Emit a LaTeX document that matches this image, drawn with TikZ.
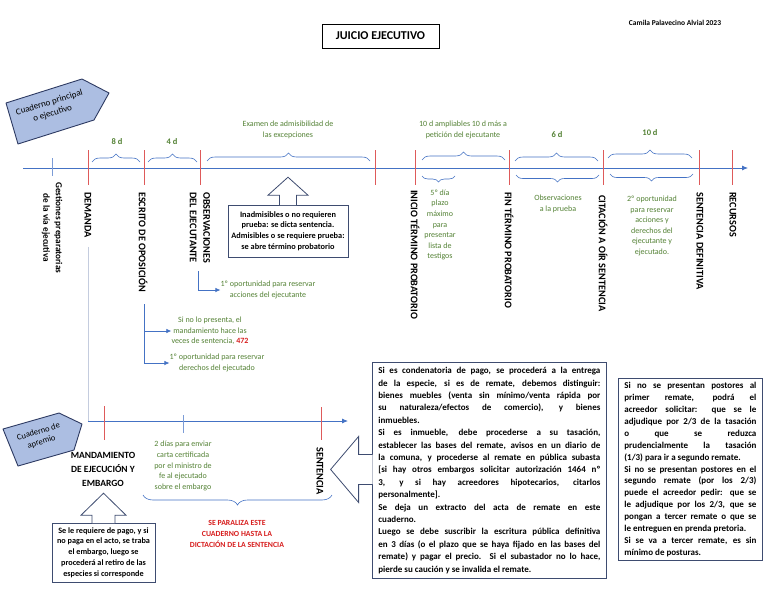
\documentclass[tikz,border=0pt]{standalone}
\usepackage{fontspec}
\setmainfont{Carlito}
\usetikzlibrary{arrows.meta,decorations.pathreplacing}
\definecolor{lineblue}{RGB}{68,114,196}
\definecolor{tickred}{RGB}{222,90,90}
\definecolor{verde}{RGB}{84,130,53}
\definecolor{tagfill}{RGB}{172,190,226}
\definecolor{tagline}{RGB}{45,58,98}
\definecolor{boxline}{RGB}{62,76,112}
\definecolor{alerta}{RGB}{215,30,30}
\definecolor{guia}{RGB}{196,204,222}
\begin{document}
\begin{tikzpicture}[x=1pt, y=-1pt,
  eje/.style={draw=lineblue, line width=0.8pt},
  marca/.style={draw=tickred, line width=0.9pt},
  marcaazul/.style={draw=lineblue!70, line width=0.8pt},
  hito/.style={rotate=-90, anchor=west, inner sep=0pt, font=\bfseries\fontsize{10.2}{13.5}\selectfont},
  plazo/.style={text=verde, align=center, inner sep=0pt, font=\fontsize{8}{10.6}\selectfont},
  dias/.style={text=verde, inner sep=0pt, font=\bfseries\fontsize{8.5}{10}\selectfont},
  llave/.style={draw=lineblue, line width=0.6pt, decorate, decoration={brace, amplitude=#1}},
  llave/.default=7pt,
  llaveabajo/.style={draw=lineblue, line width=0.6pt, decorate, decoration={brace, mirror, amplitude=#1}},
  llaveabajo/.default=6pt,
  rama/.style={draw=lineblue, line width=0.7pt, -{Latex[length=5pt, width=4.5pt]}},
  cuaderno/.style={draw=tagline, line width=0.9pt, fill=tagfill, line join=round},
  rotulo/.style={align=center, inner sep=0pt},
  caja/.style={draw=boxline, line width=0.8pt, fill=white},
  flecha/.style={draw=boxline, line width=0.8pt, fill=white}]

\path[use as bounding box, fill=white] (0,0) rectangle (768,594);

\node[draw, line width=0.8pt, minimum width=117, minimum height=24, inner sep=0pt, font=\bfseries\fontsize{12}{14}\selectfont] (titulo) at (380.5,36) {JUICIO EJECUTIVO};
\node[inner sep=0pt, font=\bfseries\fontsize{7.5}{9}\selectfont] (autora) at (675,23) {Camila Palavecino Alvial 2023};

\draw[cuaderno] (6,103) -- (82,79) -- (109,93) -- (94,120) -- (18,144) -- cycle;
\node[rotulo, rotate=17, font=\fontsize{9}{11}\selectfont] (principal) at (51,108) {Cuaderno principal\\o ejecutivo};
\draw[cuaderno] (3,429) -- (59,413) -- (82,424) -- (74,450) -- (18,466) -- cycle;
\node[rotulo, rotate=17, font=\fontsize{8.5}{10.5}\selectfont] (apremio) at (40,437) {Cuaderno de\\apremio};

\coordinate (e0) at (23,168);
\coordinate (e1) at (748,168);
\draw[eje, -{Latex[length=6pt, width=5pt]}] (e0) -- (e1);
\draw[marcaazul] (52,158) -- (52,176);
\foreach \x in {88,144,200,375,415,509,603,699,732}
  \draw[marca] (\x,150) -- (\x,185);

\node[hito, align=center, font=\bfseries\fontsize{9.2}{12.5}\selectfont] (gestiones) at (52,182) {Gestiones preparatorias\\de la vía ejecutiva};
\node[hito] (demanda) at (88,192) {DEMANDA};
\node[hito] (escrito) at (143,192) {ESCRITO DE OPOSICIÓN};
\node[hito, align=center] (observ) at (200,192) {OBSERVACIONES\\DEL EJECUTANTE};
\node[hito] (inicio) at (415,190) {INICIO TÉRMINO PROBATORIO};
\node[hito] (fin) at (509,192) {FIN TÉRMINO PROBATORIO};
\node[hito] (citacion) at (603,195) {CITACIÓN A OÍR SENTENCIA};
\node[hito] (sentdef) at (700,192) {SENTENCIA DEFINITIVA};
\node[hito] (recursos) at (733,192) {RECURSOS};

\draw[llave=8pt] (92,162) -- (140,162);
\draw[llave=8pt] (148,162) -- (197,162);
\draw[llave=8pt] (207,161) -- (370,161);
\draw[llave=8pt] (422,160) -- (505,160);
\draw[llave=8pt] (515,161) -- (598,161);
\draw[llave=8pt] (608,158) -- (692,158);
\draw[llaveabajo] (422,176) -- (455,176);
\draw[llaveabajo=7pt] (516,175) -- (599,175);
\draw[llaveabajo=7pt] (610,174) -- (693,174);

\node[dias] (ocho) at (117,142) {8 d};
\node[dias] (cuatro) at (172,142) {4 d};
\node[plazo] (examen) at (288,130) {Examen de admisibilidad de\\las excepciones};
\node[plazo] (ampliables) at (463,130) {10 d ampliables 10 d más a\\petición del ejecutante};
\node[dias] (seis) at (557,135) {6 d};
\node[dias] (diez) at (650,133) {10 d};
\node[plazo] (testigos) at (440,225) {5º día\\plazo\\máximo\\para\\presentar\\lista de\\testigos};
\node[plazo] (obsprueba) at (558,204) {Observaciones\\a la prueba};
\node[plazo] (segunda) at (652,226) {2º oportunidad\\para reservar\\acciones y\\derechos del\\ejecutante y\\ejecutado.};

\node[caja, align=center, minimum width=120, minimum height=52, inner sep=2pt, font=\bfseries\fontsize{8.3}{10.6}\selectfont] (admisib) at (288,231) {Inadmisibles o no requieren\\prueba: se dicta sentencia.\\Admisibles o se requiere prueba:\\se abre término probatorio};
\draw[flecha] ([yshift=-0.6pt]admisib.north) ++(-8.5,0) -- ++(0,-10) -- ++(-11.5,0) -- ++(20,-18) -- ++(20,18) -- ++(-11.5,0) -- ++(0,10);

\node[plazo] (acciones) at (268,290) {1º oportunidad para reservar\\acciones del ejecutante};
\node[plazo] (noprest) at (210,331) {Si no lo presenta, el\\mandamiento hace las\\veces de sentencia, \textcolor{alerta}{\textbf{472}}};
\node[plazo] (derechos) at (217,363) {1º oportunidad para reservar\\derechos del ejecutado};
\draw[rama] ([shift={(-2,8)}]observ.east) |- (acciones.west);
\draw[rama] ([shift={(1,12)}]escrito.east) |- (noprest.west);
\draw[rama] ([shift={(1,12)}]escrito.east) |- (derechos.west);

\coordinate (a0) at (88,421);
\coordinate (a1) at (348,421);
\draw[draw=guia, line width=0.8pt] ([shift={(0,9)}]demanda.east) -- (a0);
\draw[eje, -{Latex[length=6pt, width=5pt]}] (a0) -- (a1);
\draw[marca] (104,406) -- (104,440);
\draw[marcaazul] (183,415) -- (183,433);
\draw[marca] (321,407) -- (321,440);

\node[align=center, inner sep=0pt, font=\bfseries\fontsize{9.5}{14}\selectfont] (mandamiento) at (103,469) {MANDAMIENTO\\DE EJECUCIÓN Y\\EMBARGO};
\node[plazo] (carta) at (183,466) {2 días para enviar\\carta certificada\\por el ministro de\\fe al ejecutado\\sobre el embargo};
\node[hito] (sentencia) at (320,447) {SENTENCIA};
\draw[llaveabajo=10pt] (143,495) -- (332,495);
\node[align=center, inner sep=0pt, text=alerta, font=\bfseries\fontsize{7.8}{10.7}\selectfont] (paraliza) at (237,534) {SE PARALIZA ESTE\\CUADERNO HASTA LA\\DICTACIÓN DE LA SENTENCIA};

\node[caja, align=center, minimum width=103, minimum height=59, inner sep=2pt, font=\bfseries\fontsize{8.2}{10.8}\selectfont] (requiere) at (103.5,552.5) {Se le requiere de pago, y si\\no paga en el acto, se traba\\el embargo, luego se\\procederá al retiro de las\\especies si corresponde};
\draw[flecha] ([yshift=-0.6pt]requiere.north) ++(-11.5,0) -- ++(0,-8) -- ++(-11,0) -- ++(22.5,-22) -- ++(22.5,22) -- ++(-11,0) -- ++(0,8);

\node[caja, anchor=north west, text width=222, inner xsep=6pt, inner ysep=5pt, align=justify, font={\bfseries\fontsize{9}{12.4}\selectfont\hyphenpenalty10000 \tolerance10000 }] (remate) at (372,362) {Si es condenatoria de pago, se procederá a la entrega\linebreak de la especie, si es de remate, debemos distinguir:\linebreak bienes muebles (venta sin mínimo/venta rápida por\linebreak su naturaleza/efectos de comercio), y bienes\linebreak inmuebles.\par
Si es inmueble, debe procederse a su tasación,\linebreak establecer las bases del remate, avisos en un diario de\linebreak la comuna, y procederse al remate en pública subasta\linebreak{}[si hay otros embargos solicitar autorización 1464 nº\linebreak 3, y si hay acreedores hipotecarios, citarlos\linebreak personalmente].\par
Se deja un extracto del acta de remate en este\linebreak cuaderno.\par
Luego se debe suscribir la escritura pública definitiva\linebreak en 3 días (o el plazo que se haya fijado en las bases del\linebreak remate) y pagar el precio. Si el subastador no lo hace,\linebreak pierde su caución y se invalida el remate.};
\draw[flecha] ([shift={(0.6,-1)}]remate.west) ++(0,-15) -- ++(-14,0) -- ++(0,-18) -- ++(-28,33) -- ++(28,33) -- ++(0,-18) -- ++(14,0);

\node[caja, anchor=north west, text width=132, inner xsep=6pt, inner ysep=4pt, align=justify, font={\bfseries\fontsize{9}{11.9}\selectfont\hyphenpenalty10000 \tolerance10000 }] (postores) at (618,378) {Si no se presentan postores al\linebreak primer remate, podrá el\linebreak acreedor solicitar: que se le\linebreak adjudique por 2/3 de la tasación\linebreak o que se reduzca\linebreak prudencialmente la tasación\linebreak (1/3) para ir a segundo remate.\par
Si no se presentan postores en el\linebreak segundo remate (por los 2/3)\linebreak puede el acreedor pedir: que se\linebreak le adjudique por los 2/3, que se\linebreak pongan a tercer remate o que se\linebreak le entreguen en prenda pretoria.\par
Si se va a tercer remate, es sin\linebreak mínimo de posturas.};
\end{tikzpicture}
\end{document}
